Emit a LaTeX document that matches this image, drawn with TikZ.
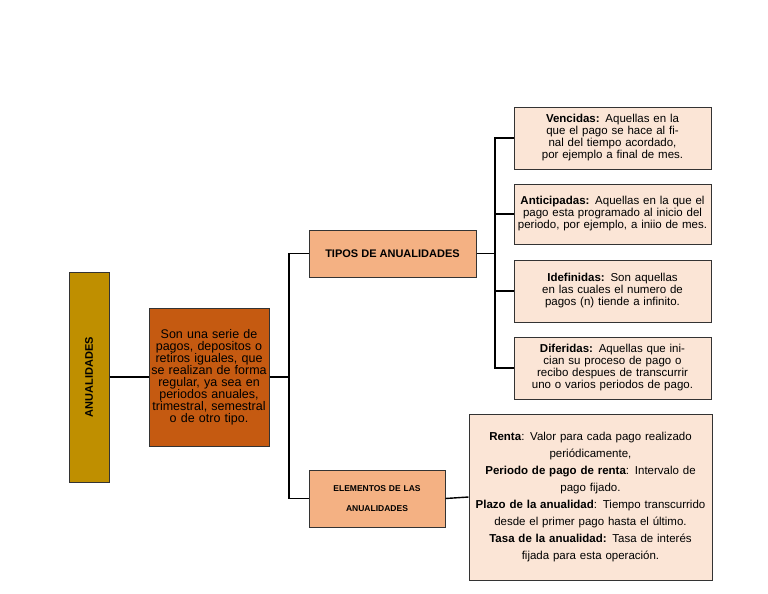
\documentclass[tikz,border=0pt]{standalone}
\usepackage{fontspec}
\setmainfont{Liberation Sans}
\begin{document}
\begin{tikzpicture}[x=1pt,y=-1pt,
 bx/.style={draw=black!80,line width=1pt,inner sep=1pt,align=center},
 ln/.style={draw=black,line width=1.4pt}]
\useasboundingbox (0,0) rectangle (768,594);
\node[bx,fill={rgb,255:red,191;green,143;blue,0},minimum width=40pt,minimum height=210pt] (an) at (89,377) {};
\node[rotate=90,font=\fontsize{11}{13}\selectfont\bfseries] at (an.center) {ANUALIDADES};
\node[bx,fill={rgb,255:red,197;green,90;blue,17},minimum width=120pt,minimum height=138pt,text width=118pt,font=\fontsize{12.5}{12}\selectfont] (ds) at (209,377) {Son una serie de pagos, depositos o retiros iguales, que se realizan de forma regular, ya sea en periodos anuales, trimestral, semestral o de otro tipo.};
\tikzset{mid/.style={bx,fill={rgb,255:red,244;green,177;blue,131}}}
\node[mid,minimum width=167pt,minimum height=47pt,font=\fontsize{11}{13}\selectfont\bfseries] (ti) at (392.5,253.5) {TIPOS DE ANUALIDADES};
\node[mid,minimum width=136pt,minimum height=57pt,text width=130pt,font=\fontsize{8.5}{20}\selectfont\bfseries] (el) at (377,498.5) {ELEMENTOS DE LAS\\ANUALIDADES};
\tikzset{lt/.style={bx,fill={rgb,255:red,251;green,229;blue,214},minimum width=197pt,text width=193pt,font=\fontsize{11.5}{12}\selectfont}}
\node[lt,minimum height=62pt] (v) at (612.5,138) {\textbf{Vencidas:} Aquellas en la que el pago se hace al final del tiempo acordado, por ejemplo a final de mes.};
\node[lt,minimum height=60pt] (a) at (612.5,214) {\textbf{Anticipadas:} Aquellas en la que el pago esta programado al inicio del periodo, por ejemplo, a iniio de mes.};
\node[lt,minimum height=62pt] (i) at (612.5,291) {\textbf{Idefinidas:} Son aquellas en las cuales el numero de pagos (n) tiende a infinito.};
\node[lt,minimum height=62pt] (d) at (612.5,368) {\textbf{Diferidas:} Aquellas que inician su proceso de pago o recibo despues de transcurrir uno o varios periodos de pago.};
\node[lt,minimum width=243pt,text width=240pt,minimum height=166pt,font=\fontsize{11.5}{17}\selectfont] (e) at (590.5,497) {\textbf{Renta}: Valor para cada pago realizado\\periódicamente,\\\textbf{Periodo de pago de renta}: Intervalo de\\pago fijado.\\\textbf{Plazo de la anualidad}: Tiempo transcurrido\\desde el primer pago hasta el último.\\\textbf{Tasa de la anualidad:} Tasa de interés\\fijada para esta operación.};
\draw[ln] (an.east) -- (ds.west);
\draw[ln] (ds.east) -- (289,377) |- (ti.west);
\draw[ln] (289,377) |- (el.west);
\draw[ln] (ti.east) -- (495,253.5) |- (v.west);
\draw[ln] (495,253.5) |- (a.west);
\draw[ln] (495,253.5) |- (i.west);
\draw[ln] (495,253.5) |- (d.west);
\draw[ln] (el.east) -- (e.west);
\end{tikzpicture}
\end{document}
